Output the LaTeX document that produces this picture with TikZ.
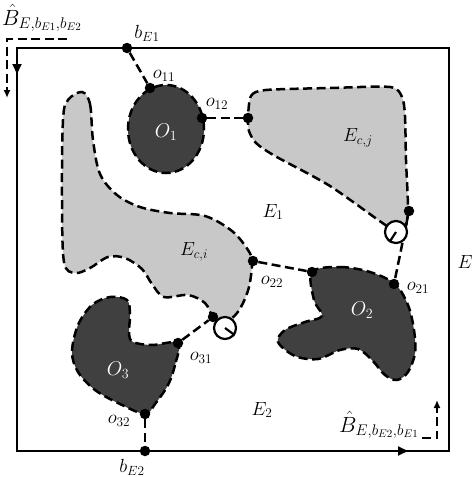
\RequirePackage{fix-cm}
\documentclass[tikz,border=0pt]{standalone}
\usetikzlibrary{arrows.meta}
\definecolor{obsgray}{HTML}{404040}
\definecolor{freegray}{HTML}{C8C8C8}
\begin{document}
\begin{tikzpicture}[x=1pt,y=-1pt,
 bound/.style={line width=2.5pt, dash pattern=on 9pt off 4.5pt},
 conn/.style={line width=2.5pt, dash pattern=on 9pt off 4.5pt},
 dot/.style={circle, fill=black, inner sep=0pt, minimum size=10.5pt},
 valve/.style={circle, draw=black, fill=white, line width=2.2pt, inner sep=0pt, minimum size=22pt},
 lbl/.style={font=\fontsize{19}{22}\selectfont, inner sep=0pt},
 olbl/.style={lbl, text=white, font=\fontsize{20}{23}\selectfont},
 blbl/.style={font=\fontsize{22}{25}\selectfont, inner sep=0pt, anchor=base west},
 obs/.style={fill=obsgray, draw=black, bound},
 free/.style={fill=freegray, draw=black, bound},
 tipd/.style={-{Latex[length=8pt,width=7pt]}},
]
\useasboundingbox (0,0) rectangle (474,477);
% environment border
\draw[line width=2.2pt] (17,48) rectangle (449,451);
\draw[line width=2pt, -{Triangle[length=10pt,width=9pt]}] (17,58) -- (17,74);
\draw[line width=2pt, -{Triangle[length=10pt,width=9pt]}] (390,451) -- (408,451);
% free regions
\draw[free] plot[smooth cycle, tension=0.55] coordinates {
 (82,92) (90,104) (93,140) (100,174) (117,195) (140,207) (170,213) (205,216)
 (232,231) (248,250) (252,262) (249,287) (241,307) (232,318) (222,320) (213,317)
 (205,303) (188,295) (164,297) (152,284) (142,269) (125,258) (108,257) (90,268)
 (75,273) (64,262) (62,200) (63,120) (68,100)};
\draw[free] plot[smooth cycle, tension=0.45] coordinates {
 (248,118) (251,96) (266,90) (330,88) (390,87) (402,97) (405,116) (406,160)
 (408,210) (404,230) (390,228) (330,186) (275,156) (256,143) (249,131)};
% obstacles
\draw[obs] (166,129) ellipse [x radius=38pt, y radius=44pt];
\draw[obs] plot[smooth cycle, tension=0.55] coordinates {
 (312,272) (340,267) (370,272) (395,284) (408,305) (414,330) (415,353) (408,372)
 (397,380) (385,375) (372,360) (358,349) (340,350) (318,359) (295,356) (278,342)
 (285,330) (305,322) (322,316) (314,300)};
\draw[obs] plot[smooth cycle, tension=0.55] coordinates {
 (178,343) (175,365) (168,385) (155,404) (145,414) (120,404) (95,390) (78,372)
 (72,352) (78,325) (92,305) (110,297) (127,300) (130,315) (129,333) (133,342) (152,345)};
% dots
\node[dot] (bE1) at (127,48) {};
\node[dot] (o11) at (150,88) {};
\node[dot] (o12) at (202,118) {};
\node[dot] (j1) at (248,118) {};
\node[dot] (j2) at (409,211) {};
\node[dot] (o21) at (394,284) {};
\node[dot] (o22) at (253,261) {};
\node[dot] (p2) at (312,272) {};
\node[dot] (i1) at (213,317) {};
\node[dot] (o31) at (178,343) {};
\node[dot] (o32) at (145,414) {};
\node[dot] (bE2) at (145,451) {};
% connectors
\draw[conn] (bE1) -- (o11);
\draw[conn] (o12) -- (j1);
\draw[conn] (j2) -- (o21);
\draw[conn] (o22) -- (p2);
\draw[conn] (o31) -- (i1);
\draw[conn] (o32) -- (bE2);
% valves
\node[valve] (vj) at (396,232) {};
\draw[line width=2.2pt] (vj.center) -- (vj.237);
\node[valve] (vi) at (225,328) {};
\draw[line width=2.2pt] (vi.center) -- (vi.324);
% labels
\node[lbl] (LbE1) at (147,33) {$b_{E1}$};
\node[lbl] (Lo11) at (164,76) {$o_{11}$};
\node[lbl] (Lo12) at (217,104) {$o_{12}$};
\node[lbl] (Lo21) at (418,288) {$o_{21}$};
\node[lbl] (Lo22) at (272,282) {$o_{22}$};
\node[lbl] (Lo31) at (201,358) {$o_{31}$};
\node[lbl] (Lo32) at (119,421) {$o_{32}$};
\node[lbl] (LbE2) at (132,467) {$b_{E2}$};
\node[lbl] (LE1) at (273,212) {$E_1$};
\node[lbl] (LE2) at (262,410) {$E_2$};
\node[lbl] (LE) at (465,262) {$E$};
\node[lbl] (LEcj) at (358,138) {$E_{c,j}$};
\node[lbl] (LEci) at (194,252) {$E_{c,i}$};
\node[olbl] (LO1) at (166,132) {$O_1$};
\node[olbl] (LO2) at (362,310) {$O_2$};
\node[olbl] (LO3) at (118,370) {$O_3$};
% boundary traversal labels
\node[blbl] (B1) at (2,25) {$\hat{B}_{E,b_{E1},b_{E2}}$};
\coordinate (a1s) at (67,39);
\coordinate (a1c) at (7,39);
\coordinate (a1e) at (7,98);
\draw[conn, tipd] (a1s) -- (a1c) -- (a1e);
\node[blbl] (B2) at (339,432) {$\hat{B}_{E,b_{E2},b_{E1}}$};
\coordinate (a2s) at (422,438);
\coordinate (a2c) at (437,438);
\coordinate (a2e) at (437,400);
\draw[conn, tipd] (a2s) -- (a2c) -- (a2e);
\end{tikzpicture}
\end{document}
